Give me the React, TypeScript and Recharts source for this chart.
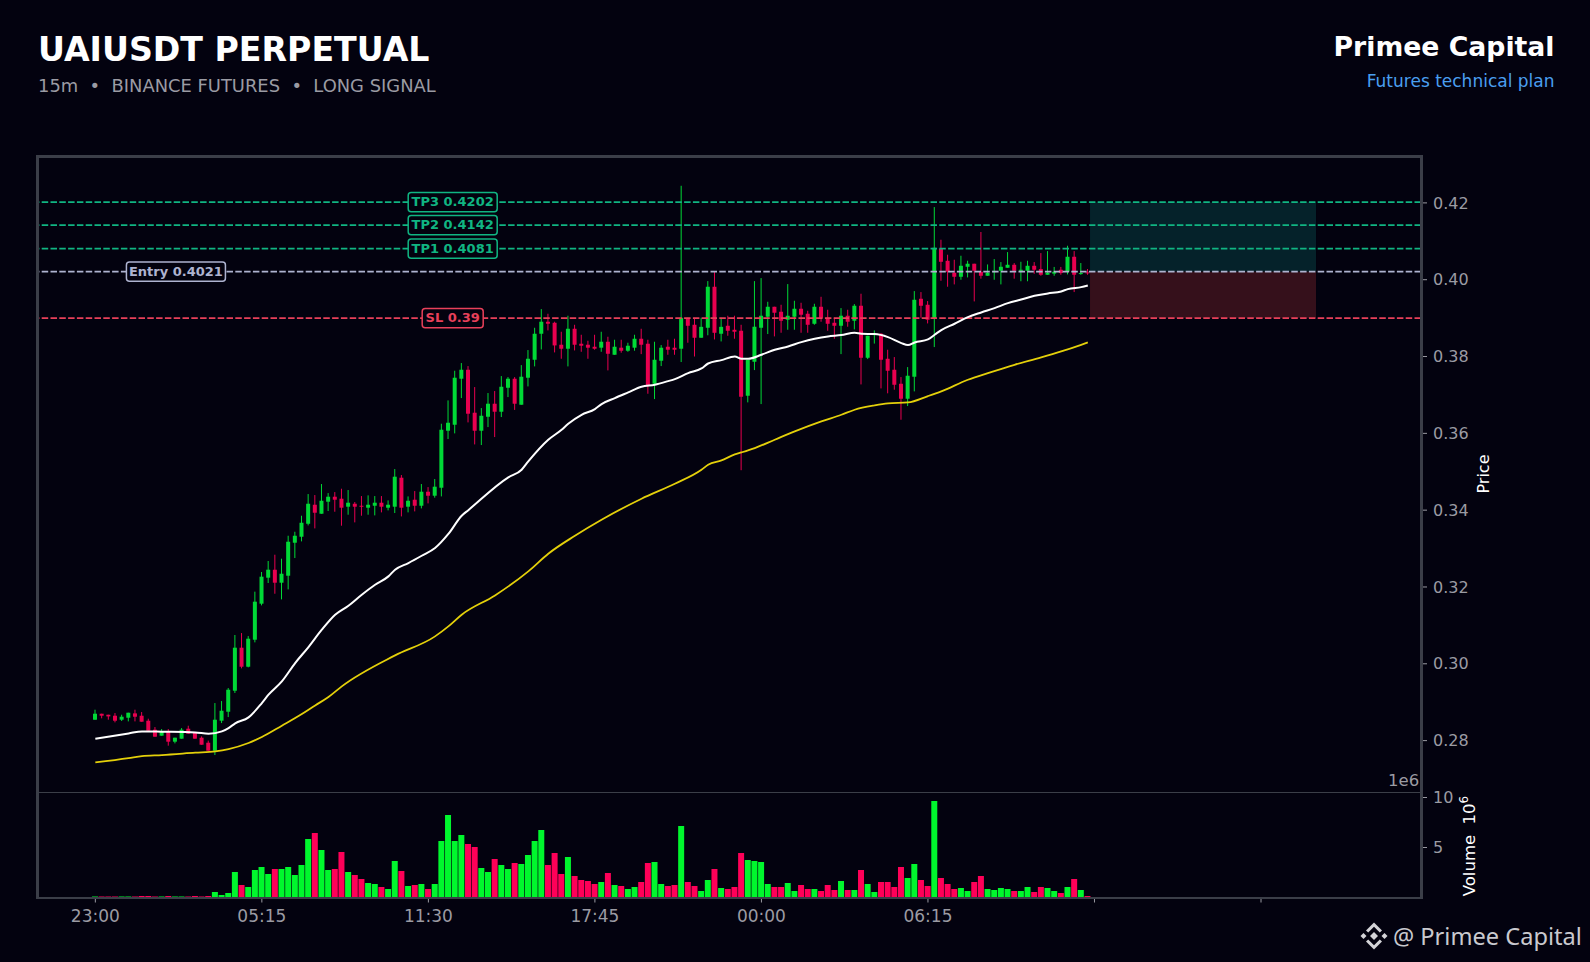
import React from "react";
import {
  ComposedChart,
  Bar,
  Line,
  XAxis,
  YAxis,
  Cell,
  ReferenceLine,
  ReferenceArea,
  ReferenceDot,
} from "recharts";

const BG = "#03020f";
const FONT = "'DejaVu Sans', sans-serif";
const GRAY = "#9b9ba3";
const FRAME = "#3b3e48";

const candleOpen = [
  0.28544, 0.287, 0.28674, 0.28648, 0.28544, 0.28596, 0.28709, 0.28648, 0.28518, 0.28284,
  0.28128, 0.28232, 0.27972, 0.2805, 0.2831, 0.28206, 0.28076, 0.27945, 0.27737, 0.28518,
  0.28752, 0.29299, 0.30419, 0.29924, 0.30627, 0.31565, 0.32242, 0.32449, 0.32111, 0.32293,
  0.33152, 0.33308, 0.33646, 0.34141, 0.33907, 0.3422, 0.3435, 0.34298, 0.3409, 0.34167,
  0.34115, 0.34064, 0.34115, 0.34194, 0.34064, 0.3409, 0.34845, 0.3409, 0.34272, 0.34115,
  0.3448, 0.34376, 0.34584, 0.36068, 0.36224, 0.37422, 0.37656, 0.36537, 0.36068, 0.36432,
  0.36771, 0.36563, 0.37187, 0.37422, 0.36745, 0.37448, 0.37916, 0.38593, 0.38906, 0.38879,
  0.38307, 0.38203, 0.38723, 0.38333, 0.38307, 0.38255, 0.3823, 0.38385, 0.38046, 0.3823,
  0.38151, 0.3823, 0.38463, 0.38333, 0.37291, 0.3789, 0.38255, 0.38229, 0.38203, 0.38984,
  0.38827, 0.38489, 0.38749, 0.39817, 0.38593, 0.38801, 0.38697, 0.38671, 0.36979, 0.37864,
  0.38749, 0.39036, 0.39296, 0.39166, 0.38958, 0.39036, 0.39244, 0.39114, 0.38853, 0.39296,
  0.39009, 0.38879, 0.38801, 0.39062, 0.38932, 0.39322, 0.37968, 0.38558, 0.38593, 0.37942,
  0.37656, 0.37291, 0.36901, 0.37474, 0.39504, 0.39348, 0.38984, 0.40806, 0.40493, 0.40181,
  0.40077, 0.40337, 0.40416, 0.40207, 0.40103, 0.40195, 0.40233, 0.40311, 0.40389, 0.40233,
  0.40233, 0.40363, 0.40276, 0.40129, 0.40159, 0.40259, 0.40207, 0.40598, 0.40155, 0.4019,
];

const candleClose = [
  0.287, 0.28648, 0.2863, 0.28518, 0.28622, 0.28726, 0.28622, 0.28492, 0.28258, 0.28102,
  0.2825, 0.27972, 0.28076, 0.28284, 0.2818, 0.2805, 0.27893, 0.27737, 0.28544, 0.28778,
  0.29325, 0.30419, 0.29924, 0.30653, 0.31617, 0.32268, 0.3245, 0.32111, 0.32345, 0.33178,
  0.33334, 0.33672, 0.34167, 0.33933, 0.34245, 0.3435, 0.34272, 0.34064, 0.34194, 0.3409,
  0.34098, 0.34141, 0.34194, 0.3409, 0.34141, 0.34871, 0.34064, 0.34245, 0.34115, 0.3448,
  0.34376, 0.34611, 0.36094, 0.36276, 0.37448, 0.37656, 0.36511, 0.36068, 0.36458, 0.36771,
  0.36563, 0.37213, 0.37422, 0.36771, 0.37474, 0.37942, 0.38593, 0.38906, 0.38854, 0.38289,
  0.38203, 0.38723, 0.38307, 0.38281, 0.3823, 0.38203, 0.38385, 0.38072, 0.38255, 0.38151,
  0.38281, 0.38463, 0.38307, 0.37239, 0.37916, 0.38229, 0.38177, 0.38177, 0.39009, 0.38801,
  0.38489, 0.38773, 0.39817, 0.38618, 0.38773, 0.38671, 0.38645, 0.36953, 0.37916, 0.38776,
  0.39062, 0.39296, 0.3914, 0.38932, 0.39062, 0.39244, 0.39088, 0.38827, 0.39296, 0.39009,
  0.38853, 0.38801, 0.39062, 0.38906, 0.39322, 0.37968, 0.38541, 0.38593, 0.37916, 0.3763,
  0.37265, 0.36901, 0.375, 0.39478, 0.39322, 0.38958, 0.40832, 0.40467, 0.40207, 0.40077,
  0.40363, 0.40416, 0.40233, 0.40103, 0.40181, 0.40229, 0.40337, 0.40389, 0.40233, 0.40259,
  0.40363, 0.40259, 0.40129, 0.40181, 0.40207, 0.40173, 0.40598, 0.40129, 0.40173, 0.40173,
];

const candleHigh = [
  0.28805, 0.287, 0.28674, 0.28718, 0.28674, 0.28726, 0.28805, 0.28744, 0.2857, 0.28353,
  0.28301, 0.28301, 0.28076, 0.28327, 0.28388, 0.28206, 0.2811, 0.28, 0.28978, 0.2903,
  0.29369, 0.3075, 0.308, 0.30722, 0.31878, 0.3239, 0.32676, 0.3284, 0.32736, 0.33334,
  0.33438, 0.33855, 0.34419, 0.34393, 0.3468, 0.34445, 0.34471, 0.34558, 0.34524, 0.34211,
  0.34367, 0.34385, 0.34367, 0.34367, 0.34254, 0.3507, 0.34914, 0.34358, 0.34497, 0.3468,
  0.346, 0.3481, 0.3625, 0.36858, 0.3763, 0.3783, 0.37751, 0.37205, 0.36658, 0.37049,
  0.37101, 0.37491, 0.37465, 0.37465, 0.37777, 0.38168, 0.38749, 0.39235, 0.39114, 0.38906,
  0.38645, 0.39062, 0.38827, 0.38567, 0.38411, 0.38567, 0.38645, 0.38515, 0.38437, 0.38437,
  0.38359, 0.38567, 0.38723, 0.38437, 0.38385, 0.38298, 0.38437, 0.38463, 0.42446, 0.39009,
  0.39009, 0.39009, 0.39964, 0.40203, 0.39009, 0.39062, 0.39062, 0.38827, 0.37916, 0.39964,
  0.40042, 0.39426, 0.39296, 0.39348, 0.39886, 0.39452, 0.394, 0.39192, 0.39374, 0.39556,
  0.39218, 0.39009, 0.39261, 0.39218, 0.39365, 0.39635, 0.38541, 0.38681, 0.38611, 0.38177,
  0.37986, 0.37465, 0.37725, 0.39704, 0.39678, 0.39444, 0.41891, 0.41041, 0.4065, 0.4052,
  0.40624, 0.40494, 0.40416, 0.41242, 0.40398, 0.40537, 0.40459, 0.40719, 0.40433, 0.40467,
  0.40494, 0.40459, 0.40693, 0.40745, 0.40333, 0.40333, 0.40884, 0.40745, 0.40434, 0.40278,
];

const candleLow = [
  0.2854, 0.2858, 0.28545, 0.28475, 0.2851, 0.285, 0.285, 0.28492, 0.28258, 0.28102,
  0.28128, 0.27868, 0.27928, 0.2805, 0.2818, 0.2805, 0.27893, 0.27737, 0.27624, 0.28457,
  0.28613, 0.2924, 0.2988, 0.29907, 0.30558, 0.31521, 0.32103, 0.31824, 0.31677, 0.31937,
  0.32753, 0.33187, 0.33603, 0.33525, 0.33907, 0.33977, 0.33959, 0.33595, 0.33881, 0.33682,
  0.33855, 0.33881, 0.33864, 0.33942, 0.33994, 0.33925, 0.33837, 0.33942, 0.33968, 0.34046,
  0.34176, 0.34324, 0.34358, 0.35851, 0.35999, 0.36918, 0.36285, 0.35712, 0.35695, 0.36163,
  0.35903, 0.36424, 0.36944, 0.3661, 0.36745, 0.37222, 0.37743, 0.38185, 0.3868, 0.38107,
  0.37942, 0.37743, 0.38159, 0.38124, 0.37942, 0.38177, 0.38124, 0.37639, 0.38046, 0.38099,
  0.38124, 0.38151, 0.38063, 0.37031, 0.36892, 0.37751, 0.38046, 0.38046, 0.37856, 0.38359,
  0.38, 0.38489, 0.38553, 0.38445, 0.38393, 0.38541, 0.38463, 0.3504, 0.36806, 0.37647,
  0.36762, 0.38585, 0.38524, 0.38619, 0.38697, 0.38697, 0.38619, 0.38619, 0.38827, 0.38906,
  0.38671, 0.38463, 0.38063, 0.38776, 0.38706, 0.37274, 0.37934, 0.38337, 0.3717, 0.37042,
  0.37136, 0.36354, 0.3671, 0.37092, 0.3901, 0.38862, 0.38246, 0.39973, 0.39817, 0.39878,
  0.39999, 0.4006, 0.39435, 0.40027, 0.40103, 0.39999, 0.39878, 0.40311, 0.40027, 0.3996,
  0.3996, 0.40155, 0.40103, 0.40129, 0.40103, 0.40129, 0.40138, 0.39678, 0.40129, 0.40129,
];

const volumeM = [
  0.1, 0.1, 0.1, 0.1, 0.1, 0.1, 0.1, 0.15, 0.15, 0.1,
  0.1, 0.15, 0.1, 0.1, 0.1, 0.15, 0.1, 0.15, 0.55, 0.25,
  0.45, 2.55, 1.25, 1.05, 2.75, 3.05, 2.35, 2.85, 2.85, 3.05,
  2.25, 3.25, 5.85, 6.45, 4.75, 2.75, 2.85, 4.55, 2.55, 2.25,
  1.85, 1.45, 1.35, 1.05, 0.85, 3.65, 2.65, 1.15, 1.25, 1.35,
  0.85, 1.35, 5.65, 8.25, 5.65, 6.25, 5.35, 5.05, 2.95, 2.55,
  3.85, 3.25, 2.85, 3.45, 3.35, 4.25, 5.65, 6.75, 3.25, 4.45,
  2.35, 4.05, 2.15, 1.75, 1.65, 1.35, 1.55, 2.45, 1.25, 1.15,
  0.85, 1.05, 1.55, 3.45, 3.55, 1.35, 1.15, 1.25, 7.15, 1.55,
  1.15, 0.65, 1.75, 2.85, 0.95, 0.85, 1.05, 4.45, 3.75, 3.65,
  3.55, 1.35, 1.05, 1.05, 1.45, 0.65, 1.25, 0.85, 0.85, 0.65,
  1.25, 0.75, 1.65, 0.75, 0.75, 2.75, 1.35, 0.55, 1.55, 1.55,
  1.05, 3.05, 1.95, 3.35, 1.75, 1.15, 9.65, 1.95, 1.35, 0.85,
  0.95, 0.65, 1.55, 2.15, 0.85, 0.75, 0.95, 0.85, 0.65, 0.65,
  1.05, 0.55, 1.05, 0.95, 0.65, 0.45, 1.05, 1.85, 0.75, 0.15,
];

const fastAt = [
  0, 5, 7, 10, 15, 17, 19, 20, 21, 23, 25, 26, 28, 30, 32, 34, 36, 38, 40, 42, 44, 45, 47, 49, 51, 53, 55, 56, 62,
  64, 65, 68, 70, 71, 73, 75, 76, 78, 80, 82, 84, 86, 87, 89, 91, 92, 94, 96, 97, 98, 100, 102, 104, 106,
  108, 110, 112, 114, 115, 117, 119, 121, 122, 123, 125, 126, 127, 129, 131, 133, 135, 137, 139, 141, 143, 145,
  146, 148, 149,
];
const fastValue = [
  0.2805, 0.28188, 0.2824, 0.28232, 0.28214, 0.2818, 0.2824, 0.28327, 0.28449, 0.28605, 0.28978, 0.29195, 0.29542,
  0.3002, 0.30436, 0.30887, 0.31278, 0.31512, 0.31799, 0.32059, 0.32276, 0.32449, 0.32623, 0.32813, 0.33013, 0.3338,
  0.33855, 0.34, 0.34853, 0.35053, 0.3527, 0.35834, 0.36094, 0.3625, 0.36484, 0.36632, 0.36762,
  0.36918, 0.37066, 0.37213, 0.37265, 0.3736, 0.37412, 0.37568, 0.37689, 0.37819, 0.37906, 0.38, 0.37942, 0.37942,
  0.38046, 0.38176, 0.38263, 0.38376, 0.38463, 0.38523, 0.38558, 0.38619, 0.38593, 0.38584, 0.38506, 0.3835, 0.38298,
  0.38367, 0.38445, 0.38567, 0.38689, 0.38853, 0.39026, 0.39148, 0.3926, 0.3939, 0.39485, 0.39581, 0.39642, 0.39694,
  0.39755, 0.39807, 0.39851,
];
const slowAt = [
  0, 5, 7, 10, 15, 18, 20, 23, 25, 28, 31, 33, 35, 37, 45, 51, 53, 55, 60, 65, 68, 72, 76, 82, 87, 91, 92, 94, 96,
  97, 99, 102, 105, 109, 112, 114, 117, 119, 122, 125, 127, 131, 134, 138, 142, 145, 148, 149,
];
const slowValue = [
  0.27433, 0.27546, 0.27598, 0.27624, 0.27685, 0.2772, 0.2778, 0.27937, 0.28093, 0.28388, 0.28692, 0.28917, 0.29134,
  0.29412, 0.30219, 0.30714, 0.30974, 0.31278, 0.31781, 0.32406, 0.32866, 0.33334, 0.33751, 0.34298, 0.34688, 0.3505,
  0.35183, 0.35296, 0.35452, 0.35504, 0.35617, 0.35834, 0.36051, 0.36311, 0.36484, 0.36614, 0.36727, 0.36779, 0.36805,
  0.3697, 0.37092, 0.37396, 0.37568, 0.37785, 0.37976, 0.38132, 0.38306, 0.38367,
];

const timeTicks = [0, 25, 50, 75, 100, 125, 150, 175];
const timeLabels = ["23:00", "05:15", "11:30", "17:45", "00:00", "06:15", "", ""];
const priceTicks = [0.28, 0.3, 0.32, 0.34, 0.36, 0.38, 0.4, 0.42];
const volumeTicks = [5, 10];

const levels = [
  { name: "TP3 0.4202", price: 0.4202, at: 53.65, w: 89, color: "#10b582" },
  { name: "TP2 0.4142", price: 0.4142, at: 53.65, w: 89, color: "#10b582" },
  { name: "TP1 0.4081", price: 0.4081, at: 53.65, w: 89, color: "#10b582" },
  { name: "Entry 0.4021", price: 0.4021, at: 12.1, w: 99, color: "#aeb3d0" },
  { name: "SL 0.39", price: 0.39, at: 53.65, w: 61, color: "#e8405a" },
];

const rows = candleOpen.map((open, i) => ({
  i,
  open,
  close: candleClose[i],
  range: [candleLow[i], candleHigh[i]],
  vol: volumeM[i],
  fast: fastAt.includes(i) ? fastValue[fastAt.indexOf(i)] : null,
  slow: slowAt.includes(i) ? slowValue[slowAt.indexOf(i)] : null,
}));

const X_DOMAIN: [number, number] = [-8.607, 199.02];
const isUp = (r: { open: number; close: number }) => r.close >= r.open;

// body is placed inside the low-high bar that recharts already scaled
function Candle(props: any) {
  const { x, y, width, height, payload } = props;
  const top = Math.min(y, y + height);
  const h = Math.abs(height);
  const [lo, hi] = payload.range;
  const toY = (p: number) => top + ((hi - p) / (hi - lo)) * h;
  const color = isUp(payload) ? "#00d936" : "#e8004f";
  const yA = toY(Math.max(payload.open, payload.close));
  const yB = toY(Math.min(payload.open, payload.close));
  const cx = x + width / 2;
  return (
    <g>
      <line x1={cx} x2={cx} y1={top} y2={top + h} stroke={color} strokeWidth={1} />
      <rect x={x} y={yA} width={width} height={Math.max(yB - yA, 1)} fill={color} />
    </g>
  );
}

function LevelTag(props: any) {
  const { cx, cy, w, label, color } = props;
  return (
    <g>
      <rect x={cx - w / 2} y={cy - 9.6} width={w} height={19.2} rx={3} fill={BG} stroke={color} strokeWidth={1.5} />
      <text x={cx} y={cy + 4.2} textAnchor="middle" fill={color} fontFamily={FONT} fontSize={13} fontWeight="bold">
        {label}
      </text>
    </g>
  );
}

function text(style: React.CSSProperties, body: React.ReactNode) {
  return (
    <div style={{ position: "absolute", fontFamily: FONT, whiteSpace: "pre", lineHeight: 1, ...style }}>{body}</div>
  );
}

function PriceChart() {
  return (
    <ComposedChart
      width={1590}
      height={792}
      data={rows}
      margin={{ top: 157, left: 38, right: 109, bottom: 0 }}
      style={{ position: "absolute", left: 0, top: 0 }}
    >
      <XAxis dataKey="i" type="number" domain={X_DOMAIN} allowDataOverflow hide />
      <YAxis
        orientation="right"
        width={60}
        domain={[0.26662, 0.43195]}
        allowDataOverflow
        ticks={priceTicks}
        interval={0}
        tickFormatter={(v: number) => v.toFixed(2)}
        axisLine={false}
        tickSize={6}
        tickMargin={6}
        tickLine={{ stroke: GRAY }}
        tick={{ fill: GRAY, fontSize: 16, fontFamily: FONT }}
      />
      <ReferenceArea x1={149.33} x2={183.26} y1={0.4021} y2={0.4202} fill="#05222a" fillOpacity={1} stroke="none" />
      <ReferenceArea x1={149.33} x2={183.26} y1={0.39} y2={0.4021} fill="#35101b" fillOpacity={1} stroke="none" />
      {levels.map((l) => (
        <ReferenceLine key={l.name} y={l.price} stroke={l.color} strokeWidth={1.9} strokeDasharray="6.5 2.3" />
      ))}
      <Bar dataKey="range" barSize={4} shape={<Candle />} isAnimationActive={false} />
      <Line
        type="monotone"
        dataKey="slow"
        stroke="#e4d00a"
        strokeWidth={1.8}
        dot={false}
        connectNulls
        isAnimationActive={false}
      />
      <Line
        type="monotone"
        dataKey="fast"
        stroke="#ffffff"
        strokeWidth={2}
        dot={false}
        connectNulls
        isAnimationActive={false}
      />
      {levels.map((l) => (
        <ReferenceDot
          key={l.name}
          x={l.at}
          y={l.price}
          shape={<LevelTag w={l.w} label={l.name} color={l.color} />}
        />
      ))}
    </ComposedChart>
  );
}

function VolumeChart() {
  return (
    <ComposedChart
      width={1590}
      height={192}
      data={rows}
      margin={{ top: 22, left: 38, right: 109, bottom: 34.5 }}
      style={{ position: "absolute", left: 0, top: 770 }}
    >
      <XAxis
        dataKey="i"
        type="number"
        domain={X_DOMAIN}
        allowDataOverflow
        ticks={timeTicks}
        tickFormatter={(v: number) => timeLabels[timeTicks.indexOf(v)]}
        interval={0}
        height={30}
        axisLine={false}
        tickSize={5}
        tickMargin={7}
        tickLine={{ stroke: GRAY }}
        tick={{ fill: GRAY, fontSize: 17, fontFamily: FONT }}
      />
      <YAxis
        orientation="right"
        width={60}
        domain={[0, 10.55]}
        allowDataOverflow
        ticks={volumeTicks}
        interval={0}
        axisLine={false}
        tickSize={6}
        tickMargin={6}
        tickLine={{ stroke: GRAY }}
        tick={{ fill: GRAY, fontSize: 16, fontFamily: FONT }}
      />
      <Bar dataKey="vol" barSize={6} isAnimationActive={false}>
        {rows.map((r) => (
          <Cell key={r.i} fill={isUp(r) ? "#00f72d" : "#ff0058"} />
        ))}
      </Bar>
    </ComposedChart>
  );
}

function BinanceMark() {
  return (
    <svg width={28} height={28} viewBox="-14 -14 28 28" style={{ position: "absolute", left: 1360, top: 922 }}>
      <g fill="#d4d4d8">
        <path d="M0 -4 L4 0 L0 4 L-4 0 Z" />
        <path d="M-10.5 -3 L-7.5 0 L-10.5 3 L-13.5 0 Z" />
        <path d="M10.5 -3 L13.5 0 L10.5 3 L7.5 0 Z" />
        <path d="M0 -13.5 L8 -5.5 L5.8 -3.4 L0 -9.2 L-5.8 -3.4 L-8 -5.5 Z" />
        <path d="M0 13.5 L8 5.5 L5.8 3.4 L0 9.2 L-5.8 3.4 L-8 5.5 Z" />
      </g>
    </svg>
  );
}

export default function App() {
  return (
    <div style={{ position: "absolute", left: 0, top: 0, width: 1590, height: 962, background: BG, overflow: "hidden" }}>
      {text({ left: 38, top: 33, fontSize: 33.2, fontWeight: "bold", color: "#fff" }, "UAIUSDT PERPETUAL")}
      {text({ left: 38, top: 77, fontSize: 17.9, color: GRAY }, "15m  •  BINANCE FUTURES  •  LONG SIGNAL")}
      {text({ right: 35.5, top: 33.6, fontSize: 26.7, fontWeight: "bold", color: "#fff" }, "Primee Capital")}
      {text({ right: 35.5, top: 73.2, fontSize: 17, color: "#4a9ff0" }, "Futures technical plan")}

      <PriceChart />
      <VolumeChart />

      <div
        style={{
          position: "absolute",
          left: 35.5,
          top: 155.3,
          width: 1381.2,
          height: 739.2,
          borderStyle: "solid",
          borderColor: FRAME,
          borderWidth: "3px 3px 2.2px 3px",
        }}
      />
      <div style={{ position: "absolute", left: 38, top: 791.7, width: 1383, height: 1.3, background: FRAME }} />

      {text({ left: 1388, top: 773, fontSize: 16.5, color: GRAY }, "1e6")}
      {text(
        { left: 1484, top: 474, fontSize: 16, color: "#fff", transform: "translate(-50%,-50%) rotate(-90deg)" },
        "Price"
      )}
      {text(
        { left: 1470, top: 846, fontSize: 16.5, color: "#fff", transform: "translate(-50%,-50%) rotate(-90deg)" },
        <>
          {"Volume  10"}
          <sup style={{ fontSize: 12, lineHeight: 0 }}>6</sup>
        </>
      )}

      <BinanceMark />
      {text(
        { left: 1393, top: 925, fontSize: 23.6, color: "#c9c9ce", fontFamily: "'Noto Sans', sans-serif" },
        "@ Primee Capital"
      )}
    </div>
  );
}
